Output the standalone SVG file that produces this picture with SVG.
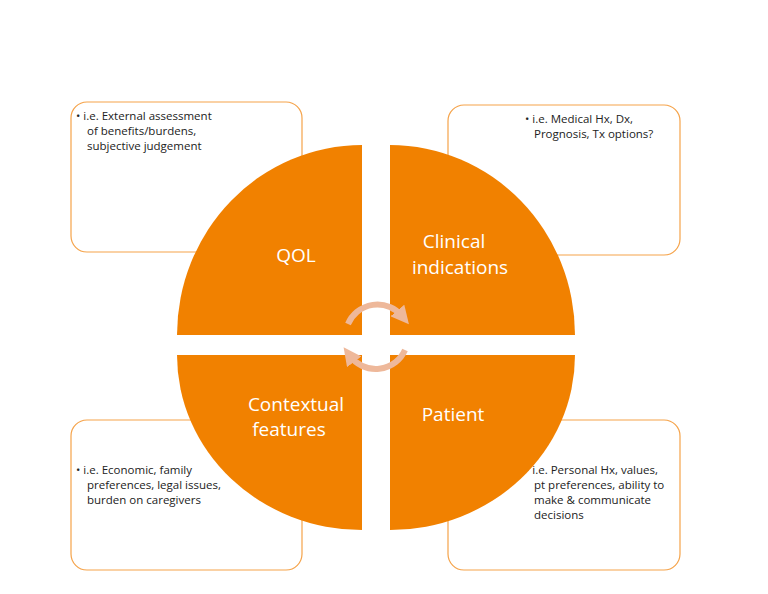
<svg xmlns="http://www.w3.org/2000/svg" width="768" height="594" viewBox="0 0 768 594">
<style>
.box{fill:#fff;stroke:#f5a34a;stroke-width:1.2}
.w{fill:#f18100}
.lbl{font-family:"Open Sans","Liberation Sans",sans-serif;font-size:19px;fill:#fff;text-anchor:middle}
.t{font-family:"Open Sans","Liberation Sans",sans-serif;font-size:11.5px;fill:#222}
.arc{fill:none;stroke:#eeb89a;stroke-width:6}
</style>
<defs>
<marker id="ah" viewBox="0 0 10 10" refX="4" refY="5" markerWidth="3" markerHeight="3" orient="auto"><path d="M0,0 L10,5 L0,10 z" fill="#eeb89a"/></marker>
</defs>
<rect width="768" height="594" fill="#fff"/>
<g id="box-qol"><rect class="box" x="71" y="102" width="231" height="150" rx="16"/>
<text class="t" x="76" y="120">• i.e. External assessment</text><text class="t" x="87" y="135">of benefits/burdens,</text><text class="t" x="87" y="150">subjective judgement</text></g>
<g id="box-clin"><rect class="box" x="448" y="105" width="232" height="150" rx="16"/>
<text class="t" x="525" y="123">• i.e. Medical Hx, Dx,</text><text class="t" x="534" y="138">Prognosis, Tx options?</text></g>
<g id="box-ctx"><rect class="box" x="71" y="420" width="231" height="150" rx="16"/>
<text class="t" x="76" y="474">• i.e. Economic, family</text><text class="t" x="87" y="489">preferences, legal issues,</text><text class="t" x="87" y="504">burden on caregivers</text></g>
<g id="box-pt"><rect class="box" x="448" y="420" width="232" height="150" rx="16"/>
<text class="t" x="525" y="474">• i.e. Personal Hx, values,</text><text class="t" x="534" y="489">pt preferences, ability to</text><text class="t" x="534" y="504">make &amp; communicate</text><text class="t" x="534" y="519">decisions</text></g>
<g id="qol"><path class="w" d="M362,335 L177,335 A185,190 0 0 1 362,145 Z"/><text class="lbl" x="296" y="262">QOL</text></g>
<g id="clinical"><path class="w" d="M390,335 L390,145 A185,190 0 0 1 575,335 Z"/><text class="lbl" x="454" y="248">Clinical</text><text class="lbl" x="460" y="274">indications</text></g>
<g id="contextual"><path class="w" d="M362,355 L362,530 A185,175 0 0 1 177,355 Z"/><text class="lbl" x="296" y="411">Contextual</text><text class="lbl" x="289" y="436">features</text></g>
<g id="patient"><path class="w" d="M390,355 L575,355 A185,175 0 0 1 390,530 Z"/><text class="lbl" x="453" y="421">Patient</text></g>
<g id="connectors">
<path class="arc" d="M348,324 A32,32 0 0 1 402,316" marker-end="url(#ah)"/>
<path class="arc" d="M405,350 A32,32 0 0 1 350,356" marker-end="url(#ah)"/>
</g>
</svg>
